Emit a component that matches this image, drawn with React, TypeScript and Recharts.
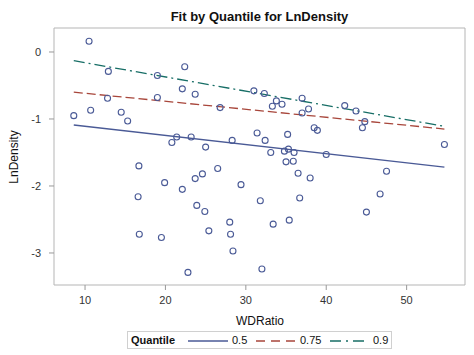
import React from "react";
import { ComposedChart, Scatter, Line, XAxis, YAxis, ReferenceArea } from "recharts";

const wdRatio = [
  10.5, 12.9, 19.0, 22.4, 22.1, 12.8, 19.0, 8.6, 10.7, 14.5,
  15.3, 20.8, 21.4, 23.2, 23.7, 31.0, 32.3, 33.8, 33.3, 34.5,
  37.0, 37.8, 37.0, 26.8, 38.5, 38.9, 31.4, 32.4, 35.2, 28.3,
  25.0, 35.3, 42.3, 43.7, 44.8, 44.5, 54.7, 16.7, 19.9, 22.1,
  16.6, 16.75, 19.5, 22.8, 33.1, 34.8, 36.0, 35.0, 35.9, 36.5,
  38.0, 26.5, 24.6, 23.7, 29.4, 31.8, 36.7, 23.9, 24.9, 28.0,
  33.4, 35.4, 25.4, 28.1, 28.4, 32.0, 40.0, 47.5, 46.7, 45.0,
];
const lnDensity = [
  0.16, -0.29, -0.35, -0.22, -0.55, -0.69, -0.68, -0.95, -0.87, -0.90,
  -1.03, -1.35, -1.27, -1.27, -0.63, -0.58, -0.62, -0.73, -0.81, -0.78,
  -0.69, -0.85, -0.91, -0.83, -1.13, -1.17, -1.21, -1.32, -1.23, -1.32,
  -1.42, -1.45, -0.80, -0.88, -1.04, -1.13, -1.38, -1.70, -1.95, -2.05,
  -2.16, -2.72, -2.77, -3.29, -1.50, -1.48, -1.50, -1.64, -1.63, -1.81,
  -1.88, -1.74, -1.82, -1.89, -1.98, -2.22, -2.18, -2.29, -2.38, -2.54,
  -2.57, -2.51, -2.67, -2.72, -2.97, -3.24, -1.53, -1.78, -2.12, -2.39,
];

const fitX = [8.6, 54.7];
const q50 = [-1.09, -1.72];
const q75 = [-0.6, -1.15];
const q90 = [-0.13, -1.11];

const xTicks = [10, 20, 30, 40, 50];
const yTicks = [0, -1, -2, -3];
const xDomain = [6.14, 57.26];
const yDomain = [-3.478, 0.358];

const points = wdRatio.map((x, i) => ({ x, y: lnDensity[i] }));
const line50 = fitX.map((x, i) => ({ x, y: q50[i] }));
const line75 = fitX.map((x, i) => ({ x, y: q75[i] }));
const line90 = fitX.map((x, i) => ({ x, y: q90[i] }));

const BLUE = "#4a5a96";
const RED = "#a8463b";
const TEAL = "#176e66";
const FONT = '"Liberation Sans", Arial, sans-serif';

const Circle = (props: any) => {
  const { cx, cy } = props;
  if (cx == null || cy == null) return null;
  return <circle cx={cx} cy={cy} r={3} fill="none" stroke={BLUE} strokeWidth={1.1} />;
};

export default function App() {
  return (
    <div
      style={{
        position: "absolute",
        left: 0,
        top: 0,
        width: 474,
        height: 355,
        background: "#fff",
        fontFamily: FONT,
      }}
    >
      <ComposedChart
        width={474}
        height={355}
        margin={{ top: 28, right: 9, bottom: 40, left: 24 }}
      >
        <XAxis
          dataKey="x"
          type="number"
          domain={xDomain}
          ticks={xTicks}
          allowDataOverflow
          axisLine={false}
          tickSize={5}
          tickMargin={6}
          tickLine={{ stroke: "#999" }}
          tick={{ fill: "#333", fontSize: 11, fontFamily: FONT }}
          height={30}
        />
        <YAxis
          dataKey="y"
          type="number"
          domain={yDomain}
          ticks={yTicks}
          allowDataOverflow
          axisLine={false}
          tickSize={5}
          tickMargin={8}
          tickLine={{ stroke: "#999" }}
          tick={{ fill: "#333", fontSize: 11, fontFamily: FONT }}
          width={30}
        />
        <ReferenceArea
          x1={xDomain[0]}
          x2={xDomain[1]}
          y1={yDomain[0]}
          y2={yDomain[1]}
          fill="none"
          stroke="#b5b5b5"
          strokeWidth={1}
          ifOverflow="visible"
        />
        <Line
          data={line50}
          dataKey="y"
          type="linear"
          stroke={BLUE}
          strokeWidth={1.3}
          dot={false}
          activeDot={false}
          isAnimationActive={false}
        />
        <Line
          data={line75}
          dataKey="y"
          type="linear"
          stroke={RED}
          strokeWidth={1.3}
          strokeDasharray="9 4"
          dot={false}
          activeDot={false}
          isAnimationActive={false}
        />
        <Line
          data={line90}
          dataKey="y"
          type="linear"
          stroke={TEAL}
          strokeWidth={1.3}
          strokeDasharray="11 4 2 4"
          dot={false}
          activeDot={false}
          isAnimationActive={false}
        />
        <Scatter data={points} dataKey="y" shape={<Circle />} isAnimationActive={false} />
      </ComposedChart>

      <div
        style={{
          position: "absolute",
          left: 0,
          width: 474,
          top: 9,
          paddingLeft: 45,
          boxSizing: "border-box",
          textAlign: "center",
          fontSize: 13,
          fontWeight: "bold",
          color: "#111",
        }}
      >
        Fit by Quantile for LnDensity
      </div>
      <div
        style={{
          position: "absolute",
          left: 0,
          width: 474,
          top: 313,
          paddingLeft: 46,
          boxSizing: "border-box",
          textAlign: "center",
          fontSize: 12,
          color: "#111",
          lineHeight: "16px",
        }}
      >
        WDRatio
      </div>
      <div
        style={{
          position: "absolute",
          left: 14 - 40,
          top: 157 - 8,
          width: 80,
          height: 16,
          lineHeight: "16px",
          textAlign: "center",
          fontSize: 12,
          color: "#111",
          transform: "rotate(-90deg)",
        }}
      >
        LnDensity
      </div>

      <div
        style={{
          position: "absolute",
          left: 127,
          top: 331,
          width: 265,
          height: 18,
          border: "1px solid #d0d0d0",
          boxSizing: "border-box",
          fontSize: 11,
          color: "#111",
        }}
      >
        <span style={{ position: "absolute", left: 3, top: 2, fontWeight: "bold" }}>Quantile</span>
        <svg style={{ position: "absolute", left: 60, top: 7 }} width={40} height={4}>
          <line x1={0} y1={2} x2={40} y2={2} stroke={BLUE} strokeWidth={1.3} />
        </svg>
        <span style={{ position: "absolute", left: 104, top: 2 }}>0.5</span>
        <svg style={{ position: "absolute", left: 128, top: 7 }} width={39} height={4}>
          <line x1={0} y1={2} x2={39} y2={2} stroke={RED} strokeWidth={1.3} strokeDasharray="9 6" />
        </svg>
        <span style={{ position: "absolute", left: 172, top: 2 }}>0.75</span>
        <svg style={{ position: "absolute", left: 202, top: 7 }} width={39} height={4}>
          <line x1={0} y1={2} x2={39} y2={2} stroke={TEAL} strokeWidth={1.3} strokeDasharray="11 5 2 5" />
        </svg>
        <span style={{ position: "absolute", left: 245, top: 2 }}>0.9</span>
      </div>
    </div>
  );
}
